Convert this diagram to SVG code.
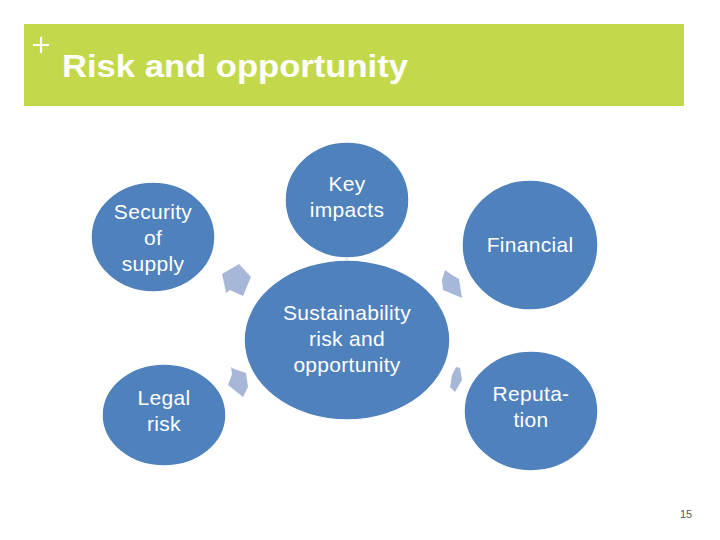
<svg xmlns="http://www.w3.org/2000/svg" width="720" height="540" viewBox="0 0 720 540">
<style>
.node{fill:#4F81BD;stroke:#ffffff;stroke-width:1.5}
.lbl{font-family:"Liberation Sans",Arial,sans-serif;font-size:21px;fill:#ffffff;text-anchor:middle;letter-spacing:0.3px}
.arr{fill:#A7B7D8}
</style>
<rect x="0" y="0" width="720" height="540" fill="#ffffff"/>
<g id="header">
<rect x="24" y="24" width="660" height="82" fill="#C3D94B"/>
<path d="M33 45 H49 M41 37 V53" stroke="#ffffff" stroke-width="2.2" fill="none"/>
<text x="62" y="77" font-family="'Liberation Sans',Arial,sans-serif" font-weight="bold" font-size="32" fill="#ffffff" textLength="346" lengthAdjust="spacingAndGlyphs">Risk and opportunity</text>
</g>
<g id="connectors">
<polygon class="arr" points="222,274 239,264 251,277 243,296 230,290 226,293 224,283"/>
<polygon class="arr" points="445,270 452,275 459,279 462,298 455,295 443,290 442,280"/>
<polygon class="arr" points="231,367 234,369 246,373 248,387 243,397 238,393 228,385 232,374"/>
<polygon class="arr" points="456,367 460,368 462,380 455,392 450,387 452,375"/>
<polygon class="arr" points="341,255 352,255 348,257.5 347.5,261 345.5,261 345,257.5"/>
</g>
<g id="key-impacts">
<ellipse class="node" cx="347" cy="200" rx="62" ry="58"/>
<text class="lbl" x="347" y="191">Key</text>
<text class="lbl" x="347" y="217">impacts</text>
</g>
<g id="center">
<ellipse class="node" cx="347" cy="340" rx="103" ry="80"/>
<text class="lbl" x="347" y="320">Sustainability</text>
<text class="lbl" x="347" y="346">risk and</text>
<text class="lbl" x="347" y="372">opportunity</text>
</g>
<g id="security-of-supply">
<ellipse class="node" cx="153" cy="237" rx="62" ry="55"/>
<text class="lbl" x="153" y="219">Security</text>
<text class="lbl" x="153" y="245">of</text>
<text class="lbl" x="153" y="271">supply</text>
</g>
<g id="financial">
<ellipse class="node" cx="530" cy="245" rx="68" ry="65"/>
<text class="lbl" x="530" y="252">Financial</text>
</g>
<g id="legal-risk">
<ellipse class="node" cx="164" cy="415" rx="62" ry="51"/>
<text class="lbl" x="164" y="405">Legal</text>
<text class="lbl" x="164" y="431">risk</text>
</g>
<g id="reputation">
<ellipse class="node" cx="531" cy="411" rx="67" ry="60"/>
<text class="lbl" x="531" y="401">Reputa-</text>
<text class="lbl" x="531" y="427">tion</text>
</g>
<text x="686" y="518" font-family="'Liberation Sans',Arial,sans-serif" font-size="11" fill="#595959" text-anchor="middle">15</text>
</svg>
